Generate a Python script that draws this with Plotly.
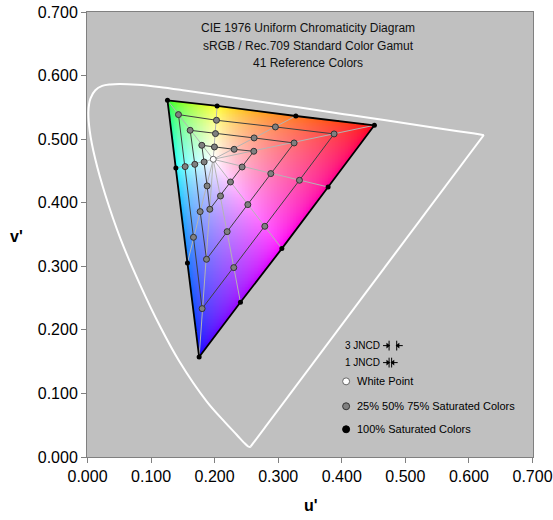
import numpy as np
import plotly.graph_objects as go

# spectral locus (u', v'), 380 nm .. 700 nm
locus_u = [0.2568, 0.2557, 0.2545, 0.2522, 0.2461, 0.2347, 0.2161, 0.1877, 0.1441,
           0.1147, 0.0828, 0.0521, 0.0282, 0.0119, 0.0035, 0.0014, 0.0046, 0.0123,
           0.0231, 0.0360, 0.0501, 0.0792, 0.1127, 0.1531, 0.2026, 0.2623, 0.3315,
           0.4035, 0.4692, 0.5203, 0.5565, 0.5830, 0.6005, 0.6109, 0.6199, 0.6234]
locus_v = [0.0166, 0.0159, 0.0159, 0.0169, 0.0226, 0.0350, 0.0549, 0.0871, 0.1510,
           0.2044, 0.2708, 0.3427, 0.4117, 0.4698, 0.5131, 0.5432, 0.5638, 0.5770,
           0.5837, 0.5861, 0.5868, 0.5856, 0.5821, 0.5766, 0.5694, 0.5604, 0.5501,
           0.5393, 0.5296, 0.5219, 0.5165, 0.5125, 0.5099, 0.5084, 0.5070, 0.5065]

# hue order: G, Y, O, R, Rose, M, V, B, Azure, C
sat100_u = [0.1258, 0.2039, 0.3277, 0.4513, 0.3785, 0.3057, 0.2406, 0.1756, 0.1572, 0.1390]
sat100_v = [0.5611, 0.5522, 0.5364, 0.5218, 0.4247, 0.3278, 0.2434, 0.1573, 0.3052, 0.4546]
sat75_u = [0.1431, 0.2029, 0.2956, 0.3879, 0.3334, 0.2789, 0.2301, 0.1803, 0.1667, 0.1536]
sat75_v = [0.5386, 0.5297, 0.5192, 0.5082, 0.4353, 0.3629, 0.2979, 0.2334, 0.3456, 0.4568]
sat50_u = [0.1615, 0.2013, 0.2621, 0.3250, 0.2883, 0.2522, 0.2197, 0.1872, 0.1772, 0.1688]
sat50_v = [0.5139, 0.5087, 0.5019, 0.4940, 0.4458, 0.3970, 0.3545, 0.3110, 0.3860, 0.4604]
sat25_u = [0.1798, 0.1997, 0.2307, 0.2616, 0.2432, 0.2249, 0.2092, 0.1924, 0.1882, 0.1835]
sat25_v = [0.4903, 0.4877, 0.4840, 0.4809, 0.4562, 0.4326, 0.4106, 0.3897, 0.4264, 0.4641]
white_u = [0.1978]
white_v = [0.4683]

title_lines = ["CIE 1976 Uniform Chromaticity Diagram",
               "sRGB / Rec.709 Standard Color Gamut",
               "41 Reference Colors"]
legend_labels = ["White Point", "25% 50% 75% Saturated Colors", "100% Saturated Colors"]
jncd_labels = ["3 JNCD", "1 JNCD"]
jncd_counts = [3, 1]
jncd = 0.004
tick_vals = [0.0, 0.1, 0.2, 0.3, 0.4, 0.5, 0.6, 0.7]

FONT = "Liberation Sans, Arial, sans-serif"

# colour fill of the gamut triangle (G, R, B corners)
gu, gv = sat100_u[0], sat100_v[0]
ru, rv = sat100_u[3], sat100_v[3]
bu, bv = sat100_u[7], sat100_v[7]
step = 0.0012
us = np.arange(min(gu, bu) - 0.002, ru + 0.002, step)
vs = np.arange(bv - 0.002, gv + 0.002, step)
U, V = np.meshgrid(us, vs)
d = 6 * U - 16 * V + 12
x = 9 * U / d
y = 4 * V / d
X = x / y
Z = (1 - x - y) / y
M = np.array([[3.2406, -1.5372, -0.4986],
              [-0.9689, 1.8758, 0.0415],
              [0.0557, -0.2040, 1.0570]])
rgb = np.einsum('ij,jhw->hwi', M, np.stack([X, np.ones_like(X), Z]))
rgb = np.clip(rgb, 0, None)
rgb = rgb / rgb.max(axis=2, keepdims=True)
rgb = np.where(rgb <= 0.0031308, 12.92 * rgb, 1.055 * rgb ** (1 / 2.4) - 0.055)


def side(px, py, ax, ay, bx, by):
    return (px - bx) * (ay - by) - (ax - bx) * (py - by)


s1 = side(U, V, gu, gv, ru, rv)
s2 = side(U, V, ru, rv, bu, bv)
s3 = side(U, V, bu, bv, gu, gv)
inside = ((s1 >= 0) & (s2 >= 0) & (s3 >= 0)) | ((s1 <= 0) & (s2 <= 0) & (s3 <= 0))
img = np.zeros(U.shape + (4,), dtype=int)
img[..., :3] = np.round(np.clip(rgb, 0, 1) * 255).astype(int)
img[..., 3] = np.where(inside, 255, 0)
img[..., :3] = np.where(inside[..., None], img[..., :3], 0)

fig = go.Figure()
fig.add_trace(go.Image(z=img.tolist(), colormodel='rgba', x0=us[0], dx=step,
                       y0=vs[0], dy=step, hoverinfo='skip'))

# spectral locus + purple line
fig.add_trace(go.Scatter(x=locus_u, y=locus_v, mode='lines', line_shape='spline',
                         line=dict(color='white', width=2), hoverinfo='skip'))
fig.add_trace(go.Scatter(x=[locus_u[-1], locus_u[0]], y=[locus_v[-1], locus_v[0]],
                         mode='lines', line=dict(color='white', width=2), hoverinfo='skip'))

# radial lines from white point
rx, ry = [], []
for u, v in zip(sat100_u, sat100_v):
    rx += [white_u[0], u, None]
    ry += [white_v[0], v, None]
fig.add_trace(go.Scatter(x=rx, y=ry, mode='lines',
                         line=dict(color='#b4b4b4', width=1), hoverinfo='skip'))

# saturation rings
for ru_, rv_, w, c in [(sat25_u, sat25_v, 1, '#404040'), (sat50_u, sat50_v, 1, '#404040'),
                       (sat75_u, sat75_v, 1, '#404040'), (sat100_u, sat100_v, 1.8, 'black')]:
    fig.add_trace(go.Scatter(x=ru_ + ru_[:1], y=rv_ + rv_[:1], mode='lines',
                             line=dict(color=c, width=w), hoverinfo='skip'))

grey_u = sat25_u + sat50_u + sat75_u
grey_v = sat25_v + sat50_v + sat75_v
fig.add_trace(go.Scatter(x=grey_u, y=grey_v, mode='markers',
                         marker=dict(color='#808080', size=6, line=dict(color='#333', width=1))))
fig.add_trace(go.Scatter(x=sat100_u, y=sat100_v, mode='markers',
                         marker=dict(color='black', size=5)))
fig.add_trace(go.Scatter(x=white_u, y=white_v, mode='markers',
                         marker=dict(color='white', size=6, line=dict(color='#666', width=1))))

# legend block
leg_u = 0.4068
leg_v = [0.119, 0.0798, 0.0436]
fig.add_trace(go.Scatter(x=[leg_u] * 3, y=leg_v, mode='markers',
                         marker=dict(color=['white', '#808080', 'black'], size=7,
                                     line=dict(color=['#666', '#333', 'black'], width=1))))

# JNCD scale marks: ->| |<-
jncd_v = [0.1752, 0.1485]
bar_u = 0.4744
shaft = 0.0095
for vj, n in zip(jncd_v, jncd_counts):
    right = bar_u + n * jncd
    fig.add_trace(go.Scatter(x=[bar_u - shaft, bar_u, None, right, right + shaft],
                             y=[vj, vj, None, vj, vj], mode='lines',
                             line=dict(color='black', width=1), hoverinfo='skip'))
    fig.add_trace(go.Scatter(x=[bar_u, right], y=[vj, vj], mode='markers',
                             marker=dict(symbol='line-ns', size=7,
                                         line=dict(color='black', width=1)),
                             hoverinfo='skip'))
    fig.add_trace(go.Scatter(x=[bar_u - 0.0022, right + 0.0022], y=[vj, vj], mode='markers',
                             marker=dict(symbol=['triangle-right', 'triangle-left'], size=5,
                                         color='black', line=dict(width=0)),
                             hoverinfo='skip'))

annotations = []
for i, t in enumerate(title_lines):
    annotations.append(dict(xref='paper', yref='paper', x=0.496, y=(457 - 28 - 17.5 * i) / 445,
                            text=t, showarrow=False, font=dict(family=FONT, size=12, color='#111'),
                            xanchor='center', yanchor='middle'))
for t, vv in zip(legend_labels, leg_v):
    annotations.append(dict(x=leg_u + 0.0145, y=vv, text=t, showarrow=False,
                            xanchor='left', yanchor='middle',
                            font=dict(family=FONT, size=11, color='black')))
for t, vv in zip(jncd_labels, jncd_v):
    annotations.append(dict(x=bar_u - shaft - 0.002, y=vv, text=t, showarrow=False,
                            xanchor='right', yanchor='middle',
                            font=dict(family=FONT, size=10, color='black')))
annotations.append(dict(xref='paper', yref='paper', x=(311 - 87) / 446, y=(457 - 505) / 445,
                        text="<b>u'</b>", showarrow=False, font=dict(family=FONT, size=16, color='black'),
                        xanchor='center', yanchor='middle'))
annotations.append(dict(xref='paper', yref='paper', x=(8 - 87) / 446, y=(457 - 236) / 445,
                        text="<b>v'</b>", showarrow=False, font=dict(family=FONT, size=16, color='black'),
                        xanchor='left', yanchor='middle'))

axis_style = dict(range=[0, 0.7], tickvals=tick_vals, tickformat='.3f', ticks='outside',
                  ticklen=5, tickcolor='#808080', showgrid=False, zeroline=False,
                  showline=True, linecolor='#808080', linewidth=1, mirror=True,
                  automargin=False,
                  tickfont=dict(family=FONT, size=16, color='black'))

fig.update_layout(
    width=553, height=520,
    margin=dict(l=87, r=20, t=12, b=63),
    paper_bgcolor='white', plot_bgcolor='#c0c0c0',
    showlegend=False,
    annotations=annotations,
    xaxis=dict(**axis_style),
    yaxis=dict(**axis_style),
)
fig.update_xaxes(scaleanchor=False, constrain='range')
fig.update_yaxes(autorange=False)

# drop the default 8px body margin so the figure fills the window
fig.write_html("out.html", config={'displayModeBar': False},
               post_script="document.body.style.margin='0px';")
